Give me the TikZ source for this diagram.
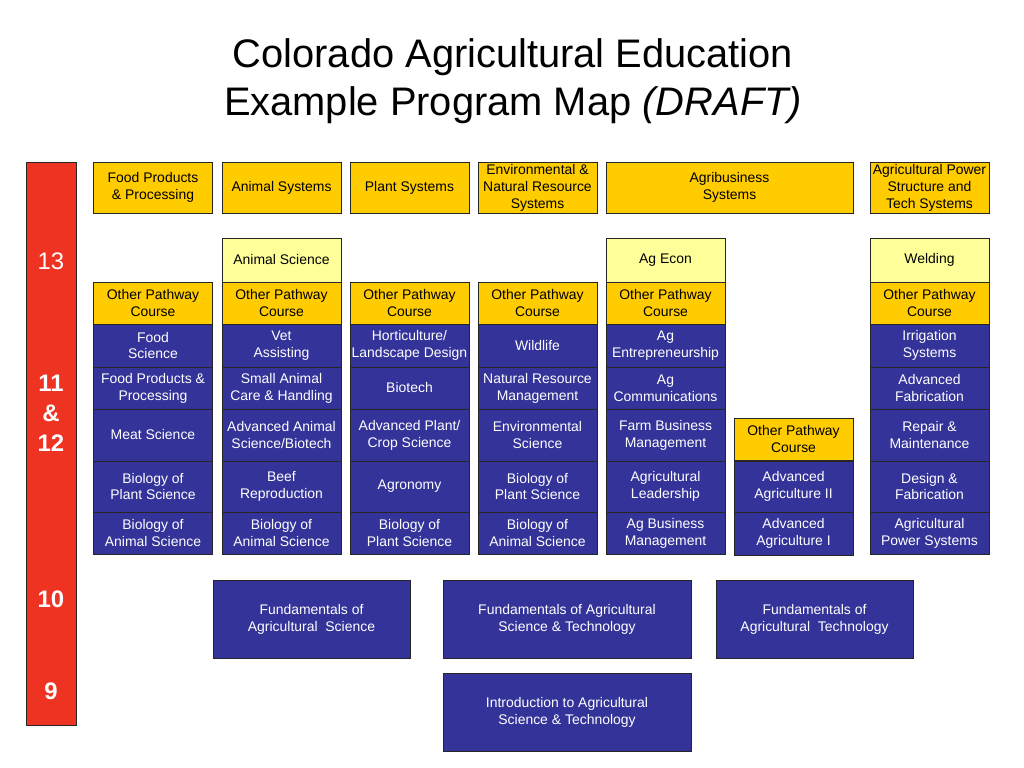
\documentclass[tikz,border=0pt]{standalone}
\usepackage{fontspec}
\setmainfont{Liberation Sans}
\definecolor{cagold}{HTML}{FFCC00}
\definecolor{capale}{HTML}{FFFF99}
\definecolor{canavy}{HTML}{333399}
\definecolor{cared}{HTML}{EE3322}
\begin{document}
\begin{tikzpicture}[x=1bp,y=-1bp,
    cell/.style={draw=black!85,line width=.8bp,inner sep=0pt,outer sep=0pt,
      align=center,font=\fontsize{14}{17}\selectfont},
    hdr/.style={cell,fill=cagold,minimum width=119bp,minimum height=51bp},
    capbox/.style={cell,fill=capale,minimum width=119bp,minimum height=44bp},
    other/.style={cell,fill=cagold,minimum width=119bp,minimum height=42bp},
    course/.style={cell,fill=canavy,text=white,minimum width=119bp},
    fund/.style={cell,fill=canavy,text=white,minimum height=78bp},
    titletext/.style={anchor=base,font=\fontsize{40}{48}\selectfont},
    gradenum/.style={text=white,align=center,font=\fontsize{24}{30}\selectfont}]

  \useasboundingbox (0,0) rectangle (1024,768);

  % title
  \node[titletext] (title1) at (513,67.5) {Colorado Agricultural Education};
  \node[titletext] (title2) at (513,115.5) {Example Program Map \textit{(DRAFT)}};

  % grade bar
  \node[draw=black!85,line width=.8bp,fill=cared,minimum width=50bp,minimum height=563bp] (bar) at (51,443.5) {};
  \node[gradenum] (g13) at (51,261) {13};
  \node[gradenum,font=\fontsize{24}{30}\selectfont\bfseries] (g1112) at (51,413) {11\\\&\\12};
  \node[gradenum,font=\fontsize{24}{30}\selectfont\bfseries] (g10) at (51,599) {10};
  \node[gradenum,font=\fontsize{24}{30}\selectfont\bfseries] (g9) at (51,691) {9};

  % pathway headers
  \node[hdr] (food)  at (153,187.5)   {Food Products\\\& Processing};
  \node[hdr] (anim)  at (281.5,187.5) {Animal Systems};
  \node[hdr] (plant) at (409.5,187.5) {Plant Systems};
  \node[hdr] (env)   at (537.5,187.5) {Environmental \&\\Natural Resource\\Systems};
  \node[hdr,minimum width=247bp] (agbus) at (729.5,187.5) {Agribusiness\\Systems};
  \node[hdr] (power) at (929.5,187.5) {Agricultural Power\\Structure and\\Tech Systems};

  % grade 13
  \node[capbox] (animsci) at (281.5,260) {Animal Science};
  \node[capbox] (agecon)  at (665.5,260) {Ag Econ};
  \node[capbox] (weld)    at (929.5,260) {Welding};

  % other pathway courses
  \node[other] (oth1) at (153,303)   {Other Pathway\\Course};
  \node[other] (oth2) at (281.5,303) {Other Pathway\\Course};
  \node[other] (oth3) at (409.5,303) {Other Pathway\\Course};
  \node[other] (oth4) at (537.5,303) {Other Pathway\\Course};
  \node[other] (oth5) at (665.5,303) {Other Pathway\\Course};
  \node[other] (oth6) at (793.5,439) {Other Pathway\\Course};
  \node[other] (oth7) at (929.5,303) {Other Pathway\\Course};

  % grades 11 & 12
  \begin{scope}[every node/.append style={course}]
    \node[minimum height=43bp] (c11) at (153,345.5) {Food\\Science};
    \node[minimum height=42bp] (c12) at (153,388)   {Food Products \&\\Processing};
    \node[minimum height=52bp] (c13) at (153,435)   {Meat Science};
    \node[minimum height=51bp] (c14) at (153,486.5) {Biology of\\Plant Science};
    \node[minimum height=42bp] (c15) at (153,533)   {Biology of\\Animal Science};

    \node[minimum height=43bp] (c21) at (281.5,345.5) {Vet\\Assisting};
    \node[minimum height=42bp] (c22) at (281.5,388)   {Small Animal\\Care \& Handling};
    \node[minimum height=52bp] (c23) at (281.5,435)   {Advanced Animal\\Science/Biotech};
    \node[minimum height=51bp] (c24) at (281.5,486.5) {Beef\\Reproduction};
    \node[minimum height=42bp] (c25) at (281.5,533)   {Biology of\\Animal Science};

    \node[minimum height=43bp] (c31) at (409.5,345.5) {Horticulture/\\Landscape Design};
    \node[minimum height=42bp] (c32) at (409.5,388)   {Biotech};
    \node[minimum height=52bp] (c33) at (409.5,435)   {Advanced Plant/\\Crop Science};
    \node[minimum height=51bp] (c34) at (409.5,486.5) {Agronomy};
    \node[minimum height=42bp] (c35) at (409.5,533)   {Biology of\\Plant Science};

    \node[minimum height=43bp] (c41) at (537.5,345.5) {Wildlife};
    \node[minimum height=42bp] (c42) at (537.5,388)   {Natural Resource\\Management};
    \node[minimum height=52bp] (c43) at (537.5,435)   {Environmental\\Science};
    \node[minimum height=51bp] (c44) at (537.5,486.5) {Biology of\\Plant Science};
    \node[minimum height=42bp] (c45) at (537.5,533)   {Biology of\\Animal Science};

    \node[minimum height=43bp] (c51) at (665.5,345.5) {Ag\\Entrepreneurship};
    \node[minimum height=42bp] (c52) at (665.5,388)   {Ag\\Communications};
    \node[minimum height=52bp] (c53) at (665.5,435)   {Farm Business\\Management};
    \node[minimum height=51bp] (c54) at (665.5,486.5) {Agricultural\\Leadership};
    \node[minimum height=42bp] (c55) at (665.5,533)   {Ag Business\\Management};

    \node[minimum height=51bp] (c64) at (793.5,486.5) {Advanced\\Agriculture II};
    \node[minimum height=43bp] (c65) at (793.5,533.5) {Advanced\\Agriculture I};

    \node[minimum height=43bp] (c71) at (929.5,345.5) {Irrigation\\Systems};
    \node[minimum height=42bp] (c72) at (929.5,388)   {Advanced\\Fabrication};
    \node[minimum height=52bp] (c73) at (929.5,435)   {Repair \&\\Maintenance};
    \node[minimum height=51bp] (c74) at (929.5,486.5) {Design \&\\Fabrication};
    \node[minimum height=42bp] (c75) at (929.5,533)   {Agricultural\\Power Systems};
  \end{scope}

  % grades 9 and 10
  \node[fund,minimum width=197bp] (fsci)  at (311.5,619) {Fundamentals of\\Agricultural\ \ Science};
  \node[fund,minimum width=248bp] (fst)   at (567,619)   {Fundamentals of Agricultural\\Science \& Technology};
  \node[fund,minimum width=197bp] (ftech) at (814.5,619) {Fundamentals of\\Agricultural\ \ Technology};
  \node[fund,minimum width=248bp] (intro) at (567,712)   {Introduction to Agricultural\\Science \& Technology};

\end{tikzpicture}
\end{document}
